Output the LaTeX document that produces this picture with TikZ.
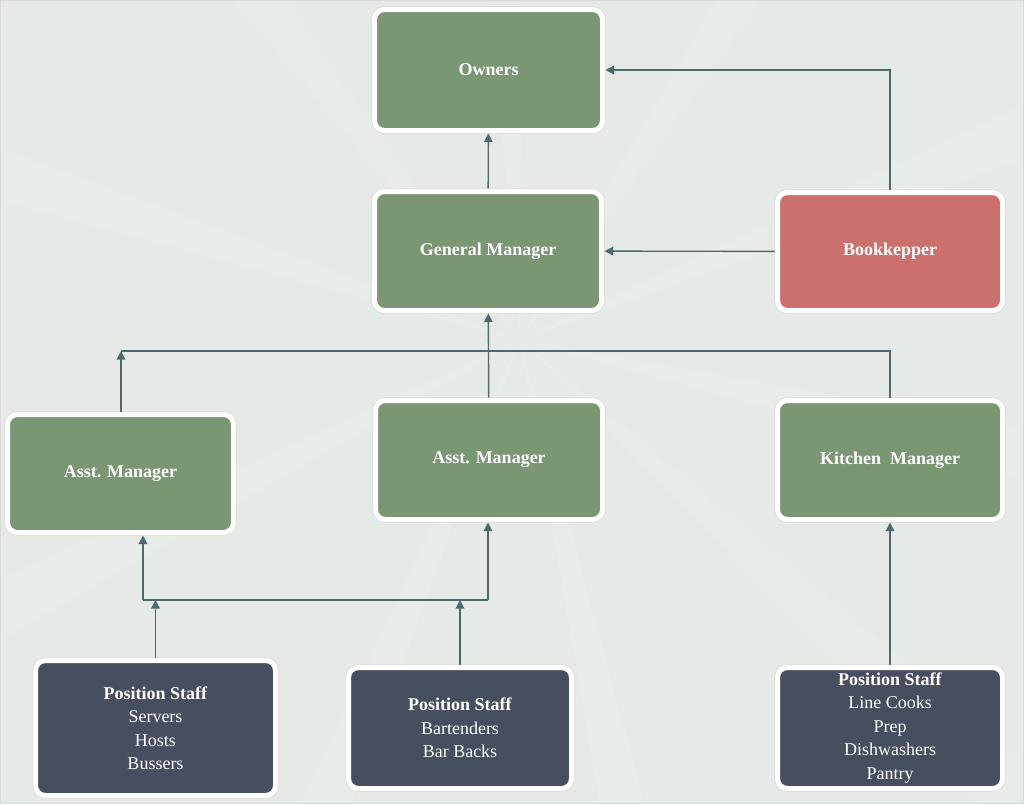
\documentclass[tikz,border=0pt]{standalone}
\usepackage{fontspec}
\setmainfont{Liberation Serif}
\usetikzlibrary{arrows.meta}

\definecolor{bgcol}{HTML}{E5EAE6}
\definecolor{mgrgreen}{HTML}{7A9673}
\definecolor{bookred}{HTML}{CC706D}
\definecolor{staffnavy}{HTML}{464E60}
\definecolor{linkcol}{HTML}{4D6970}

\tikzset{
	box/.style={rectangle, rounded corners=10pt, text=white, align=center,
		font=\fontsize{18}{23.5}\selectfont,
		preaction={draw=black!14, line width=6.5pt},
		draw=white, line width=5pt, outer sep=3pt, inner sep=0pt},
	mgrbox/.style={box, fill=mgrgreen, font=\fontsize{18}{23.5}\selectfont\bfseries},
	bookbox/.style={box, fill=bookred, font=\fontsize{18}{23.5}\selectfont\bfseries},
	staffbox/.style={box, fill=staffnavy},
	link/.style={draw=linkcol, line width=1.4pt, -{Triangle[width=8.5pt,length=8.5pt]}},
	bus/.style={draw=linkcol, line width=1.4pt}
}

\begin{document}
\begin{tikzpicture}[x=1pt,y=-1pt]
		\useasboundingbox (0,0) rectangle (1024,804);
		\fill[bgcol] (0,0) rectangle (1024,804);
		% faint rays behind the chart
		\begin{scope}
		\clip (0,0) rectangle (1024,804);
		\foreach \a in {10,40,75,110,150,195,230,265,300,335}
			\fill[white, opacity=0.14] (520,340) -- ++(\a:1200) -- ++(\a+90:110) -- cycle;
		\end{scope}
		\draw[black!15, line width=1pt] (0.5,0.5) rectangle (1023.5,803.5);
		
		\node[mgrbox, minimum width=228pt, minimum height=121pt] (owners) at (488.5,70) {Owners};
		\node[mgrbox, minimum width=227pt, minimum height=119pt] (gm) at (488,251) {General Manager};
		\node[bookbox, minimum width=225pt, minimum height=118pt] (book) at (890,251.5) {Bookkepper};
		
		\node[mgrbox, minimum width=226pt, minimum height=118pt] (lam) at (120.5,473.5) {Asst. Manager};
		\node[mgrbox, minimum width=227pt, minimum height=119pt] (mam) at (489,460) {Asst. Manager};
		\node[mgrbox, minimum width=225pt, minimum height=119pt] (km) at (890,460) {Kitchen\ \ Manager};
		
		\node[staffbox, minimum width=240pt, minimum height=135pt] (servers) at (155.5,728) {\textbf{Position Staff}\\Servers\\Hosts\\Bussers};
		\node[staffbox, minimum width=223pt, minimum height=121pt] (bar) at (460,728) {\textbf{Position Staff}\\Bartenders\\Bar Backs};
		\node[staffbox, minimum width=225pt, minimum height=121pt] (kitchen) at (890,728) {\textbf{Position Staff}\\Line Cooks\\Prep\\Dishwashers\\Pantry};
		
		\coordinate (busL) at (121,351);
		\coordinate (busR) at (890,351);
		\coordinate (lowL) at (143,600);
		\coordinate (lowR) at (488,600);
		
		\draw[link] (gm) -- (owners);
		\draw[link] (book.north) |- (owners.east);
		\draw[link] (book) -- (gm);
		\draw[link] (mam) -- (gm);
		
		\draw[bus] (busL) -- (busR) -- (km.north);
		\draw[link] (lam.north -| busL) -- (busL);
		
		\draw[bus] (lowL) -- (lowR);
		\draw[link] (lowL) -- (lam.south -| lowL);
		\draw[link] (lowR) -- (mam.south -| lowR);
		\draw[link] (servers.north) -- (servers.north |- lowL);
		\draw[link] (bar.north) -- (bar.north |- lowL);
		\draw[link] (kitchen) -- (km);
\end{tikzpicture}
\end{document}
